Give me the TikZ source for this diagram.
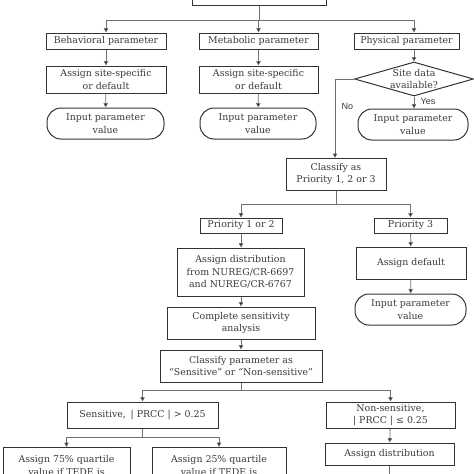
\documentclass[tikz,border=0pt]{standalone}
\usepackage{fontspec}
\setmainfont{DejaVu Serif}
\newfontfamily\labelfont{Liberation Sans}
\usetikzlibrary{arrows.meta,shapes.geometric}
\definecolor{boxline}{HTML}{333333}
\definecolor{conn}{HTML}{707070}
\definecolor{txt}{HTML}{3A3A3A}
\tikzset{
  base/.style={draw=boxline, line width=1pt, text=txt, align=center,
    font=\fontsize{9.4}{12.5}\selectfont, inner sep=0pt},
  box/.style={base, rectangle},
  term/.style={base, rectangle, rounded corners=14pt},
  decide/.style={base, diamond, aspect=3.5},
  link/.style={draw=conn, line width=0.8pt},
  arr/.style={link, -{Triangle[length=4.5pt,width=4.5pt,fill=black]}},
  lbl/.style={font=\labelfont\fontsize{9}{10}\selectfont, text=txt}
}
\begin{document}
\begin{tikzpicture}[x=1pt,y=-1pt]
\useasboundingbox (0,0) rectangle (474,474);
\fill[white] (0,0) rectangle (474,474);
% nodes
\node[box, minimum width=134pt, minimum height=25pt] (top) at (259,-7.5) {};
\node[box, minimum width=120pt, minimum height=16pt] (beh) at (106,41) {Behavioral parameter};
\node[box, minimum width=119pt, minimum height=16pt] (met) at (258.5,41) {Metabolic parameter};
\node[box, minimum width=105pt, minimum height=16pt] (phy) at (406.5,41) {Physical parameter};
\node[box, minimum width=120pt, minimum height=27pt] (as1) at (106,79.5) {Assign site-specific\\or default};
\node[box, minimum width=119pt, minimum height=27pt] (as2) at (258.5,79.5) {Assign site-specific\\or default};
\node[decide, minimum width=119pt, minimum height=34pt] (dia) at (414,79) {Site data\\available?};
\node[term, minimum width=117pt, minimum height=31pt] (in1) at (105.5,123.5) {Input parameter\\value};
\node[term, minimum width=116pt, minimum height=31pt] (in2) at (258,123.5) {Input parameter\\value};
\node[term, minimum width=110pt, minimum height=31pt] (in3) at (413,124.5) {Input parameter\\value};
\node[box, minimum width=100pt, minimum height=32pt] (cls) at (336,174) {Classify as\\Priority 1, 2 or 3};
\node[box, minimum width=82pt, minimum height=15pt] (p12) at (241,225.5) {Priority 1 or 2};
\node[box, minimum width=73pt, minimum height=15pt] (p3) at (410.5,225.5) {Priority 3};
\node[box, minimum width=127pt, minimum height=48pt] (dist) at (240.5,272) {Assign distribution\\from NUREG/CR-6697\\and NUREG/CR-6767};
\node[box, minimum width=110pt, minimum height=32pt] (def) at (411,263) {Assign default};
\node[term, minimum width=111pt, minimum height=31pt] (in4) at (410.5,309.5) {Input parameter\\value};
\node[box, minimum width=148pt, minimum height=32pt] (csa) at (241,323) {Complete sensitivity\\analysis};
\node[box, minimum width=162pt, minimum height=32pt] (cpa) at (241,366) {Classify parameter as\\``Sensitive'' or ``Non-sensitive''};
\node[box, minimum width=151pt, minimum height=26pt] (sen) at (142.5,415) {Sensitive,\enspace | PRCC | > 0.25};
\node[box, minimum width=129pt, minimum height=26pt] (non) at (390.5,415) {Non-sensitive,\\| PRCC | ≤ 0.25};
\node[box, minimum width=127pt, anchor=north, inner ysep=8pt, text depth=22pt] (a75) at (66.5,447) {Assign 75\% quartile\\value if TEDE is};
\node[box, minimum width=134pt, anchor=north, inner ysep=8pt, text depth=22pt] (a25) at (219,447) {Assign 25\% quartile\\value if TEDE is};
\node[box, minimum width=129pt, minimum height=22pt] (dst2) at (389.5,454) {Assign distribution};
\coordinate (out) at (391,490);
% connectors
\coordinate (j1) at (259,20);
\draw[link] (top.south) -- (j1);
\draw[arr] (j1) -| (beh.north);
\draw[arr] (j1) -- (j1 -| met.north) -- (met.north);
\draw[arr] (j1) -| (dia.north |- phy.north);
\draw[arr] (beh) -- (as1);
\draw[arr] (as1) -- (in1);
\draw[arr] (met) -- (as2);
\draw[arr] (as2) -- (in2);
\draw[arr] (dia.north |- phy.south) -- (dia.north);
\draw[arr] (dia.south) -- (dia.south |- in3.north) node[lbl, pos=0.45, right=3pt] {Yes};
\draw[arr] (dia.west) -- (335,79) -- (335,158) node[lbl, pos=0.35, right=3pt] {No};
\coordinate (j2) at (336,204);
\draw[link] (cls.south) -- (j2);
\draw[arr] (j2) -| (p12.north);
\draw[arr] (j2) -| (p3.north);
\draw[arr] (p12) -- (dist.north -| p12.south);
\draw[arr] (dist.south -| p12.south) -- (csa.north);
\draw[arr] (csa) -- (cpa);
\draw[arr] (p3) -- (def);
\draw[arr] (def) -- (in4);
\coordinate (j3) at (241,390);
\draw[link] (cpa.south) -- (j3);
\draw[arr] (j3) -| (sen.north);
\draw[arr] (j3) -| (non.north);
\coordinate (j4) at (142.5,437);
\draw[link] (sen.south) -- (j4);
\draw[arr] (j4) -| (a75.north);
\draw[arr] (j4) -| (a25.north);
\draw[arr] (non) -- (dst2);
\draw[link] (dst2.south) -- (dst2.south |- out);
\end{tikzpicture}
\end{document}
